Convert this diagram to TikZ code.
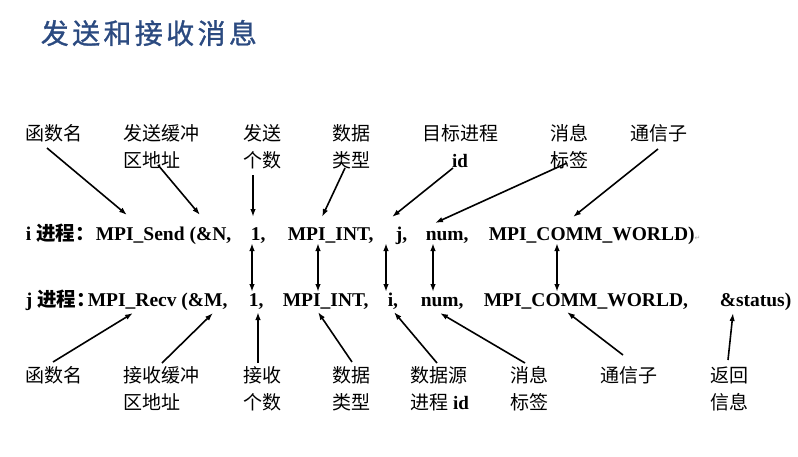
\documentclass[tikz,border=0pt]{standalone}
\usepackage{fontspec}
\setmainfont{Liberation Serif}
\newfontfamily\cjk{Noto Sans CJK SC}
\newfontfamily\titlefont[LetterSpace=12, FakeBold=1]{Noto Sans CJK SC}
\newfontfamily\symb{DejaVu Sans}
\usetikzlibrary{arrows.meta}

\definecolor{titleblue}{RGB}{43,74,128}

\tikzset{
  lbl/.style = {font=\cjk\fontsize{19}{27}\selectfont, align=left, anchor=base west, inner sep=0pt},
  tok/.style = {font=\bfseries\fontsize{19.5}{24}\selectfont, anchor=base west, inner sep=0pt},
}

\begin{document}
\begin{tikzpicture}[x=1pt, y=-1pt, >={Latex[length=8pt,width=5.5pt]}, line width=1.6pt]
\useasboundingbox (0,0) rectangle (798,456);

\node[font=\titlefont\fontsize{28}{28}\selectfont, text=titleblue, anchor=west, inner sep=0pt] (title) at (40,33) {发送和接收消息};

% labels above (two-line nodes sit on their last line)
\node[lbl] (fnS) at (25,140) {函数名};
\node[lbl] (bufS) at (123,167) {发送缓冲\\区地址};
\node[lbl] (cntS) at (243,167) {发送\\个数};
\node[lbl] (typS) at (332,167) {数据\\类型};
\node[lbl, align=center, anchor=base] (dstS) at (460,167) {目标进程\\{\rmfamily\bfseries id}};
\node[lbl] (tagS) at (550,167) {消息\\标签};
\node[lbl] (comS) at (630,140) {通信子};

% i process
\node[tok] (pi) at (25,240) {i {\cjk 进程：}};
\node[tok] (send) at (95,240) {MPI\_Send (\&N,};
\node[tok] (cnti) at (250,240) {1,};
\node[tok] (typi) at (287,240) {MPI\_INT,};
\node[tok] (dsti) at (395,240) {j,};
\node[tok] (tagi) at (425,240) {num,};
\node[tok] (comi) at (488,240) {MPI\_COMM\_WORLD){\mdseries\symb\fontsize{7}{7}\selectfont\color{black!35}↵}};

% j process
\node[tok] (pj) at (25,306) {j {\cjk 进程：}};
\node[tok] (recv) at (87,306) {MPI\_Recv (\&M,};
\node[tok] (cntj) at (248,306) {1,};
\node[tok] (typj) at (282,306) {MPI\_INT,};
\node[tok] (srcj) at (387,306) {i,};
\node[tok] (tagj) at (420,306) {num,};
\node[tok] (comj) at (483,306) {MPI\_COMM\_WORLD,};
\node[tok] (stat) at (719,306) {\&status)};

% labels below
\node[lbl] (fnR) at (25,382) {函数名};
\node[lbl] (bufR) at (123,409) {接收缓冲\\区地址};
\node[lbl] (cntR) at (243,409) {接收\\个数};
\node[lbl] (typR) at (332,409) {数据\\类型};
\node[lbl] (srcR) at (410,409) {数据源\\进程 {\rmfamily\bfseries id}};
\node[lbl] (tagR) at (510,409) {消息\\标签};
\node[lbl] (comR) at (600,382) {通信子};
\node[lbl] (retR) at (710,409) {返回\\信息};

\path[->] ([shift={(22,8)}]fnS.base west) edge ([shift={(32,-25)}]send.base west)
        ([shift={(35,-2)}]bufS.base west) edge ([shift={(105,-25)}]send.base west)
        ([shift={(10,8)}]cntS.base west) edge ([shift={(3,-23)}]cnti.base west)
        ([shift={(13,1)}]typS.base west) edge ([shift={(35,-23)}]typi.base west)
        ([shift={(-7,1)}]dstS.base) edge ([shift={(-3,-23)}]dsti.base west)
        ([shift={(17,-4)}]tagS.base west) edge ([shift={(10,-17)}]tagi.base west)
        ([shift={(28,9)}]comS.base west) edge ([shift={(85,-23)}]comi.base west);

\path[<->] ([shift={(2,3)}]cnti.base west) edge ([shift={(4,-14)}]cntj.base west)
        ([shift={(31,3)}]typi.base west) edge ([shift={(36,-14)}]typj.base west)
        ([shift={(-9,3)}]dsti.base west) edge ([shift={(-1,-14)}]srcj.base west)
        ([shift={(8,3)}]tagi.base west) edge ([shift={(13,-14)}]tagj.base west)
        ([shift={(69,3)}]comi.base west) edge ([shift={(74,-14)}]comj.base west);

\path[->] ([shift={(28,-20)}]fnR.base west) edge ([shift={(46,7)}]recv.base west)
        ([shift={(39,-46)}]bufR.base west) edge ([shift={(126,7)}]recv.base west)
        ([shift={(15,-46)}]cntR.base west) edge ([shift={(10,6)}]cntj.base west)
        ([shift={(20,-47)}]typR.base west) edge ([shift={(36,6)}]typj.base west)
        ([shift={(27,-46)}]srcR.base west) edge ([shift={(7,6)}]srcj.base west)
        ([shift={(15,-46)}]tagR.base west) edge ([shift={(20,7)}]tagj.base west)
        ([shift={(23,-27)}]comR.base west) edge ([shift={(84,6)}]comj.base west)
        ([shift={(18,-49)}]retR.base west) edge ([shift={(14,7)}]stat.base west);
\end{tikzpicture}
\end{document}
